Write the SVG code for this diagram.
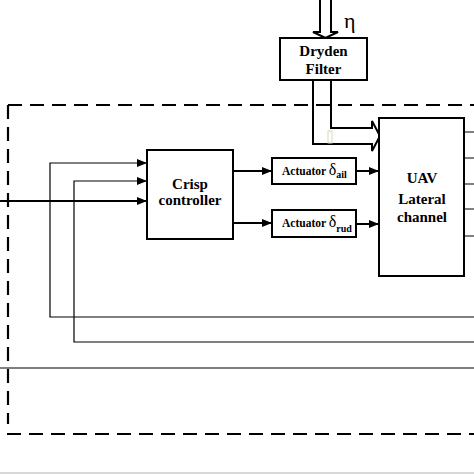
<svg xmlns="http://www.w3.org/2000/svg" width="474" height="474" viewBox="0 0 474 474">
<defs>
<marker id="ah" markerWidth="10" markerHeight="8" refX="10" refY="4" orient="auto" markerUnits="userSpaceOnUse">
<path d="M0,0 L10,4 L0,8 Z" fill="#000"/>
</marker>
<style>
.box{fill:#fff;stroke:#000;stroke-width:2}
.t{font-family:"Liberation Serif","Times New Roman",serif;font-weight:bold;fill:#000;text-anchor:middle}
.a{font-family:"Liberation Serif","Times New Roman",serif;font-weight:bold;fill:#000}
.thick{fill:none;stroke:#000;stroke-width:2}
.thin{fill:none;stroke:#000;stroke-width:1.2}
.dash{fill:none;stroke:#000;stroke-width:2.2;stroke-dasharray:14 8}
</style>
</defs>
<rect width="474" height="474" fill="#fff"/>
<rect x="0" y="472" width="474" height="2" fill="#d8d8d8"/>
<g id="boundary">
<path class="dash" d="M8,105 V424"/>
<path class="dash" d="M8,105 H474"/>
<path class="dash" d="M7,434 H474"/>
</g>
<g id="connectors">
<path d="M320,0 V32 H313 L325.5,38 L338,32 H331 V0" fill="#fff" stroke="#000" stroke-width="2"/>
<path d="M331,80 V128 H372 V121 L380,136 L372,151 V144 H313 V80" fill="none" stroke="#000" stroke-width="2"/>
<rect x="328" y="131" width="4" height="12" fill="none" stroke="#d8d8c0" stroke-width="1"/>
<path class="thick" d="M0,201 H147" marker-end="url(#ah)"/>
<path class="thin" d="M474,317 H50 V163 H147" marker-end="url(#ah)"/>
<path class="thin" d="M474,342 H74 V181 H147" marker-end="url(#ah)"/>
<path class="thin" d="M0,368 H474"/>
<path class="thick" d="M233,171 H272" marker-end="url(#ah)"/>
<path class="thick" d="M233,223 H272" marker-end="url(#ah)"/>
<path class="thick" d="M356,171 H379" marker-end="url(#ah)"/>
<path class="thick" d="M356,224 H379" marker-end="url(#ah)"/>
<path class="thin" d="M464,132 H474 M464,158 H474 M464,184 H474 M464,209 H474 M464,236 H474"/>
</g>
<g id="eta">
<text x="344" y="28" font-family="Liberation Serif,serif" font-size="22" fill="#000">η</text>
</g>
<g id="dryden">
<rect class="box" x="280" y="38" width="87" height="42"/>
<text class="t" x="323.5" y="56" font-size="15">Dryden</text>
<text class="t" x="323.5" y="74" font-size="15">Filter</text>
</g>
<g id="crisp">
<rect class="box" x="147" y="150" width="86" height="89"/>
<text class="t" x="190" y="189" font-size="15">Crisp</text>
<text class="t" x="190" y="205" font-size="15">controller</text>
</g>
<g id="act_ail">
<rect class="box" x="272" y="158" width="84" height="26"/>
<text class="a" x="282" y="175" font-size="11.5">Actuator <tspan font-weight="normal" font-size="16">δ</tspan><tspan font-size="10" dy="3">ail</tspan></text>
</g>
<g id="act_rud">
<rect class="box" x="272" y="210" width="84" height="27"/>
<text class="a" x="282" y="227" font-size="11.5">Actuator <tspan font-weight="normal" font-size="16">δ</tspan><tspan font-size="10" dy="5">rud</tspan></text>
</g>
<g id="uav">
<rect class="box" x="379" y="118" width="85" height="158"/>
<text class="t" x="422" y="183" font-size="15">UAV</text>
<text class="t" x="422" y="204" font-size="15">Lateral</text>
<text class="t" x="422" y="222" font-size="15">channel</text>
</g>
</svg>
